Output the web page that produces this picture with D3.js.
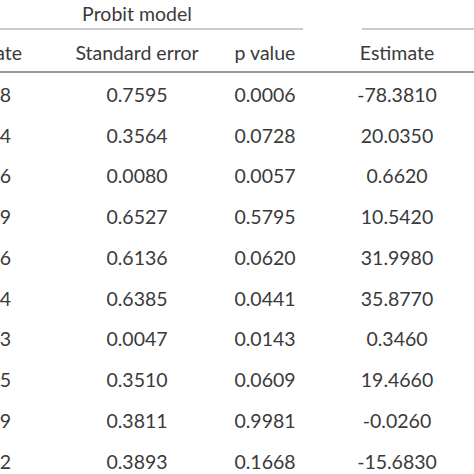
<!DOCTYPE html>
<html><head><meta charset="utf-8">
<script src="https://cdn.jsdelivr.net/npm/d3@7"></script>
<style>body{margin:0;background:#fff}</style></head>
<body><svg id="c" width="474" height="474"></svg>
<script>
const headers = ["Estimate","Standard error","p value","Estimate"];
const probitEstTail = ["8","4","6","9","6","4","3","5","9","2"];
const probitSE = ["0.7595","0.3564","0.0080","0.6527","0.6136","0.6385","0.0047","0.3510","0.3811","0.3893"];
const probitP = ["0.0006","0.0728","0.0057","0.5795","0.0620","0.0441","0.0143","0.0609","0.9981","0.1668"];
const otherEst = ["-78.3810","20.0350","0.6620","10.5420","31.9980","35.8770","0.3460","19.4660","-0.0260","-15.6830"];

const svg = d3.select("#c");
const font = "Lato, 'Open Sans', sans-serif";
const fs = 19.5;
const col = "#3a3a3a";
const y = d3.scaleLinear().domain([0,9]).range([95,462]);
const rows = d3.range(10);

svg.append("text").attr("x",137).attr("y",14).attr("dy","0.35em").attr("text-anchor","middle")
  .attr("font-family",font).attr("font-size",fs).attr("fill",col).text("Probit model");
svg.append("line").attr("x1",0).attr("x2",303).attr("y1",29).attr("y2",29).attr("stroke","#9a9a9a").attr("stroke-width",1.2);
svg.append("line").attr("x1",362).attr("x2",474).attr("y1",29).attr("y2",29).attr("stroke","#9a9a9a").attr("stroke-width",1.2);
svg.append("line").attr("x1",0).attr("x2",474).attr("y1",72).attr("y2",72).attr("stroke","#9a9a9a").attr("stroke-width",2);

const hx = [{x:22,a:"end"},{x:137,a:"middle"},{x:265,a:"middle"},{x:397,a:"middle"}];
headers.forEach((h,i)=>svg.append("text").attr("x",hx[i].x).attr("y",53).attr("dy","0.35em")
  .attr("text-anchor",hx[i].a).attr("font-family",font).attr("font-size",fs).attr("fill",col).text(h));

const cols = [{d:probitEstTail,x:11,a:"end"},{d:probitSE,x:137,a:"middle"},{d:probitP,x:265,a:"middle"},{d:otherEst,x:397,a:"middle"}];
cols.forEach(c=>{
  svg.selectAll(null).data(rows).join("text")
    .attr("x",c.x).attr("y",i=>y(i)).attr("dy","0.35em").attr("text-anchor",c.a)
    .attr("font-family",font).attr("font-size",fs).attr("fill",col).text(i=>c.d[i]);
});
</script></body></html>
